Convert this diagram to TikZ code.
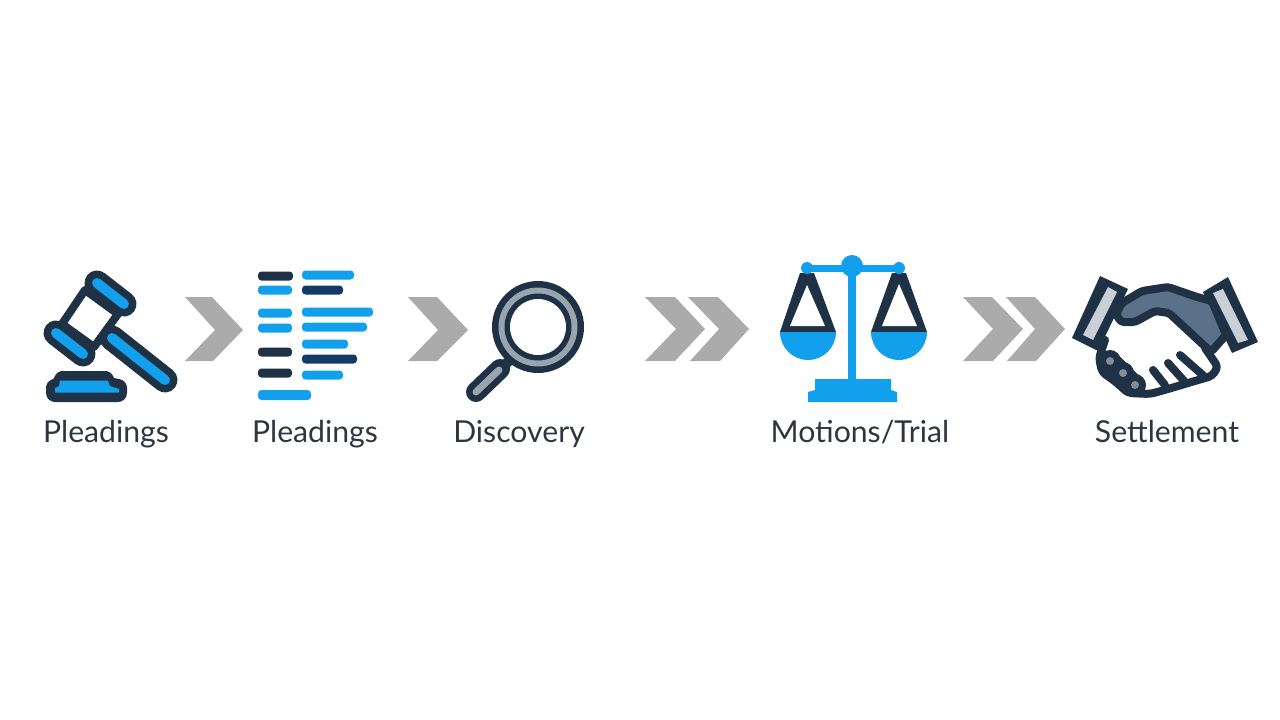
\documentclass[tikz,border=0pt]{standalone}
\usepackage{fontspec}
\setmainfont{Lato}
\definecolor{ink}{HTML}{1E3145}
\definecolor{sky}{HTML}{12A0EC}
\definecolor{navy}{HTML}{143A66}
\definecolor{chev}{HTML}{ABABAB}
\definecolor{lab}{HTML}{2C3640}
\definecolor{hand}{HTML}{5B7189}
\definecolor{cuff}{HTML}{C9CFD6}
\definecolor{ring}{HTML}{9AA4AE}
\tikzset{
 x=1pt,y=-1pt,
 chevron/.style={fill=chev,draw=none},
 lbl/.style={font=\fontsize{30.2}{34}\selectfont,text=lab,anchor=base,inner sep=0pt},
 outline/.style={draw=ink,line width=7pt,line join=round,line cap=round},
 capsule/.style={ink,line width=25pt,line cap=round},
 capcore/.style={sky,line width=10pt,line cap=round},
 bluebar/.style={fill=sky,rounded corners=3.5pt,draw=none},
 navybar/.style={fill=navy,rounded corners=3.5pt,draw=none},
 inkbar/.style={fill=ink,rounded corners=3.5pt,draw=none},
 skyshape/.style={fill=sky,draw=none},
 fingerline/.style={ink,line width=8pt,line cap=round},
}
\begin{document}
\begin{tikzpicture}
\useasboundingbox (0,0) rectangle (1280,720);
% gavel
\draw[outline,line width=8pt,fill=white] (85,290)--(118,314)--(94,347)--(62,324)--cycle;
\draw[capsule] (97,283)--(124,304);
\draw[capsule] (56,333)--(83,354);
\draw[capsule] (112,338)--(165,380);
\draw[capcore] (97,283)--(124,304);
\draw[capcore] (56,333)--(83,354);
\draw[capcore] (112,338)--(165,380);
\draw[ink,line width=18pt,line join=round,fill=ink] (63,380)--(105,380)--(108,386)--(118,388)--(118,393)--(55,393)--(55,388)--(60,386)--cycle;
\fill[sky] (60,380.5)--(108,380.5)--(110,386)--(119,389)--(119,392.5)--(55,392.5)--(55,388)--(59,386)--cycle;
% chevrons
\fill[chevron] (185,297)--(212,297)--(243,330)--(213,361)--(185,361)--(215,330)--cycle;
\fill[chevron] (408,297)--(437,297)--(468,330)--(437,361)--(408,361)--(438,330)--cycle;
\fill[chevron] (645,297)--(675,297)--(705,329)--(675,361)--(645,361)--(676,329)--cycle;
\fill[chevron] (688,297)--(718,297)--(749,329)--(720,361)--(690,361)--(719,329)--cycle;
\fill[chevron] (963,297)--(992,297)--(1023,329)--(993,361)--(963,361)--(993,329)--cycle;
\fill[chevron] (1006,297)--(1035,297)--(1065,329)--(1036,361)--(1007,361)--(1035,329)--cycle;
% bars
\fill[inkbar] (258,271.5) rectangle (293,280.5);
\fill[bluebar] (258,285.5) rectangle (292,294.5);
\fill[bluebar] (258,308.5) rectangle (292,317.5);
\fill[bluebar] (258,323.5) rectangle (292,332.5);
\fill[inkbar] (258,347.5) rectangle (292,356.5);
\fill[inkbar] (258,368.5) rectangle (292,377.5);
\fill[bluebar] (258,390) rectangle (311,400);
\fill[bluebar] (302,270.5) rectangle (354,279.5);
\fill[navybar] (302,285.5) rectangle (343,294.5);
\fill[bluebar] (302,307.5) rectangle (373,316.5);
\fill[bluebar] (302,322.5) rectangle (367,331.5);
\fill[bluebar] (302,339.5) rectangle (348,348.5);
\fill[navybar] (302,354.5) rectangle (357,363.5);
\fill[bluebar] (302,370.5) rectangle (343,379.5);
% magnifier
\draw[ink,line width=20pt,line cap=round] (476,392)--(500,369);
\draw[ink,line width=10pt] (498,371)--(510,360);
\draw[ring,line width=7pt,line cap=round] (476,392)--(499,370);
\fill[ink] (538,327) circle (46);
\fill[ring] (538,327) circle (39.5);
\fill[ink] (538,327) circle (33.5);
\fill[white] (538,327) circle (28);
% scales
\fill[ink] (800,273)--(814,273)--(836,332)--(780,332)--cycle;
\fill[white] (790,326)--(825,326)--(807,285)--cycle;
\fill[ink] (892,273)--(906,273)--(927,332)--(871,332)--cycle;
\fill[white] (882,326)--(917,326)--(899,284)--cycle;
\fill[skyshape] (780,332) arc[start angle=180,end angle=0,radius=28] -- cycle;
\fill[skyshape] (871,332) arc[start angle=180,end angle=0,radius=28] -- cycle;
\fill[skyshape] (803,264.5) rectangle (903,271.5);
\fill[skyshape] (852,266) circle (11);
\fill[skyshape] (807,268) circle (6);
\fill[skyshape] (899,268) circle (6);
\fill[skyshape] (848,266) rectangle (856,380);
\fill[skyshape] (815,379)--(891,379)--(891,390)--(897,392)--(897,402)--(808,402)--(808,392)--(815,390)--cycle;
% handshake
\draw[ink,line width=8pt,line join=round,line cap=round,rounded corners=4pt] (1105,340)--(1099,358)--(1102,372)--(1116,382)--(1128,393)--(1150,394)--(1168,389)--(1188,383)--(1212,376)--(1218,367)--(1205,348);
\draw[ink,line width=19pt,line cap=round] (1110,360)--(1136,386);
\foreach \p in {(1110,361),(1123,373),(1135,385)} \fill[ink] \p circle (11);
\draw[fingerline] (1153,370)--(1165,385);
\draw[fingerline] (1168,363)--(1185,382);
\draw[fingerline] (1180,355)--(1205,377);
\fill[ring!80!ink] (1110,361) circle (4);
\fill[ring!80!ink] (1123,373) circle (4);
\fill[ring!80!ink] (1135,385) circle (4);
\draw[outline,line width=8pt,fill=hand,rounded corners=3pt] (1122,303)--(1142,291)--(1168,287)--(1197,297)--(1212,301)--(1226,335)--(1211,352)--(1169,313)--(1155,311)--(1135,322)--(1121,322)--(1116,314)--cycle;
\fill[ink] (1100,276)--(1128,289)--(1098,351)--(1072,338)--cycle;
\fill[cuff] (1108,287)--(1117,292)--(1093,340)--(1083,335)--cycle;
\fill[ink] (1228,277)--(1258,342)--(1232,353)--(1203,292)--cycle;
\fill[cuff] (1223,289)--(1248,340)--(1238,343)--(1213,293)--cycle;
% labels
\node[lbl] (l1) at (106,442) {Pleadings};
\node[lbl] (l2) at (315,442) {Pleadings};
\node[lbl] (l3) at (519,442) {Discovery};
\node[lbl] (l4) at (860,442) {Motions/Trial};
\node[lbl] (l5) at (1167,442) {Settlement};
\end{tikzpicture}
\end{document}
